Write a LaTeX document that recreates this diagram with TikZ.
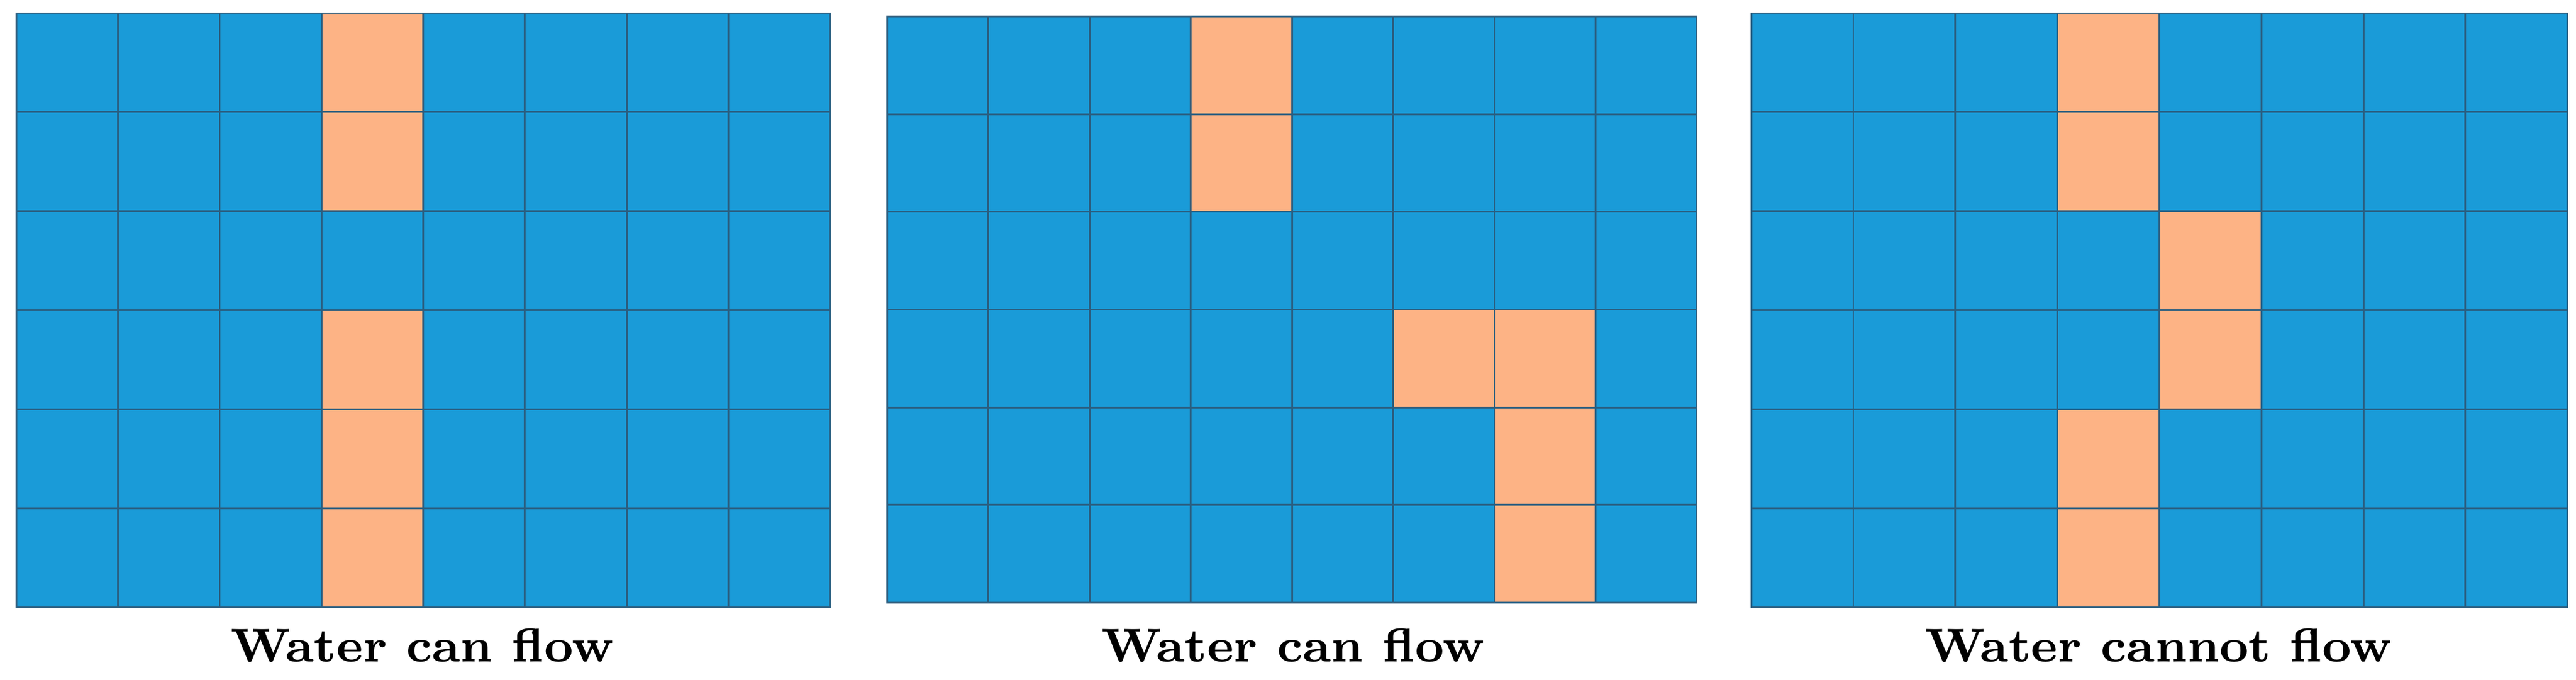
\documentclass[tikz,border=0pt]{standalone}
\definecolor{cellblue}{HTML}{1A9BD8}
\definecolor{cellor}{HTML}{FDB385}
\definecolor{edge}{HTML}{2A5E80}
\begin{document}
\begin{tikzpicture}[x=0.01cm,y=-0.01cm,
  cell/.style={draw=edge,line width=0.3pt},
  lab/.style={font=\fontsize{8.2}{10}\selectfont\bfseries}]
\useasboundingbox (0,0) rectangle (1568,414);
% grid origin x, y, orange list
\foreach \gx/\gy/\gw/\gh/\ors in {10/8/61.9/60.3/{4-1,4-2,4-4,4-5,4-6},
  540/10/61.6/59.5/{4-1,4-2,6-4,7-4,7-5,7-6},
  1066/8/62.1/60.3/{4-1,4-2,5-3,5-4,4-5,4-6}}{
  \foreach \c in {1,...,8}{\foreach \r in {1,...,6}{
    \fill[cellblue,draw=edge,line width=0.3pt] ({\gx+(\c-1)*\gw},{\gy+(\r-1)*\gh}) rectangle ++(\gw,\gh);}}
  \foreach \o in \ors{
    \pgfmathparse{0}
    \foreach \c/\r in \o {}
  }
}
% orange cells
\foreach \gx/\gy/\gw/\gh/\c/\r in {
 10/8/61.9/60.3/4/1,10/8/61.9/60.3/4/2,10/8/61.9/60.3/4/4,10/8/61.9/60.3/4/5,10/8/61.9/60.3/4/6,
 540/10/61.6/59.5/4/1,540/10/61.6/59.5/4/2,540/10/61.6/59.5/6/4,540/10/61.6/59.5/7/4,540/10/61.6/59.5/7/5,540/10/61.6/59.5/7/6,
 1066/8/62.1/60.3/4/1,1066/8/62.1/60.3/4/2,1066/8/62.1/60.3/5/3,1066/8/62.1/60.3/5/4,1066/8/62.1/60.3/4/5,1066/8/62.1/60.3/4/6}{
  \fill[cellor,draw=edge,line width=0.3pt] ({\gx+(\c-1)*\gw},{\gy+(\r-1)*\gh}) rectangle ++(\gw,\gh);}
\node[lab] (l1) at (257,393) {Water can flow};
\node[lab] (l2) at (787,393) {Water can flow};
\node[lab] (l3) at (1314,393) {Water cannot flow};
\end{tikzpicture}
\end{document}
